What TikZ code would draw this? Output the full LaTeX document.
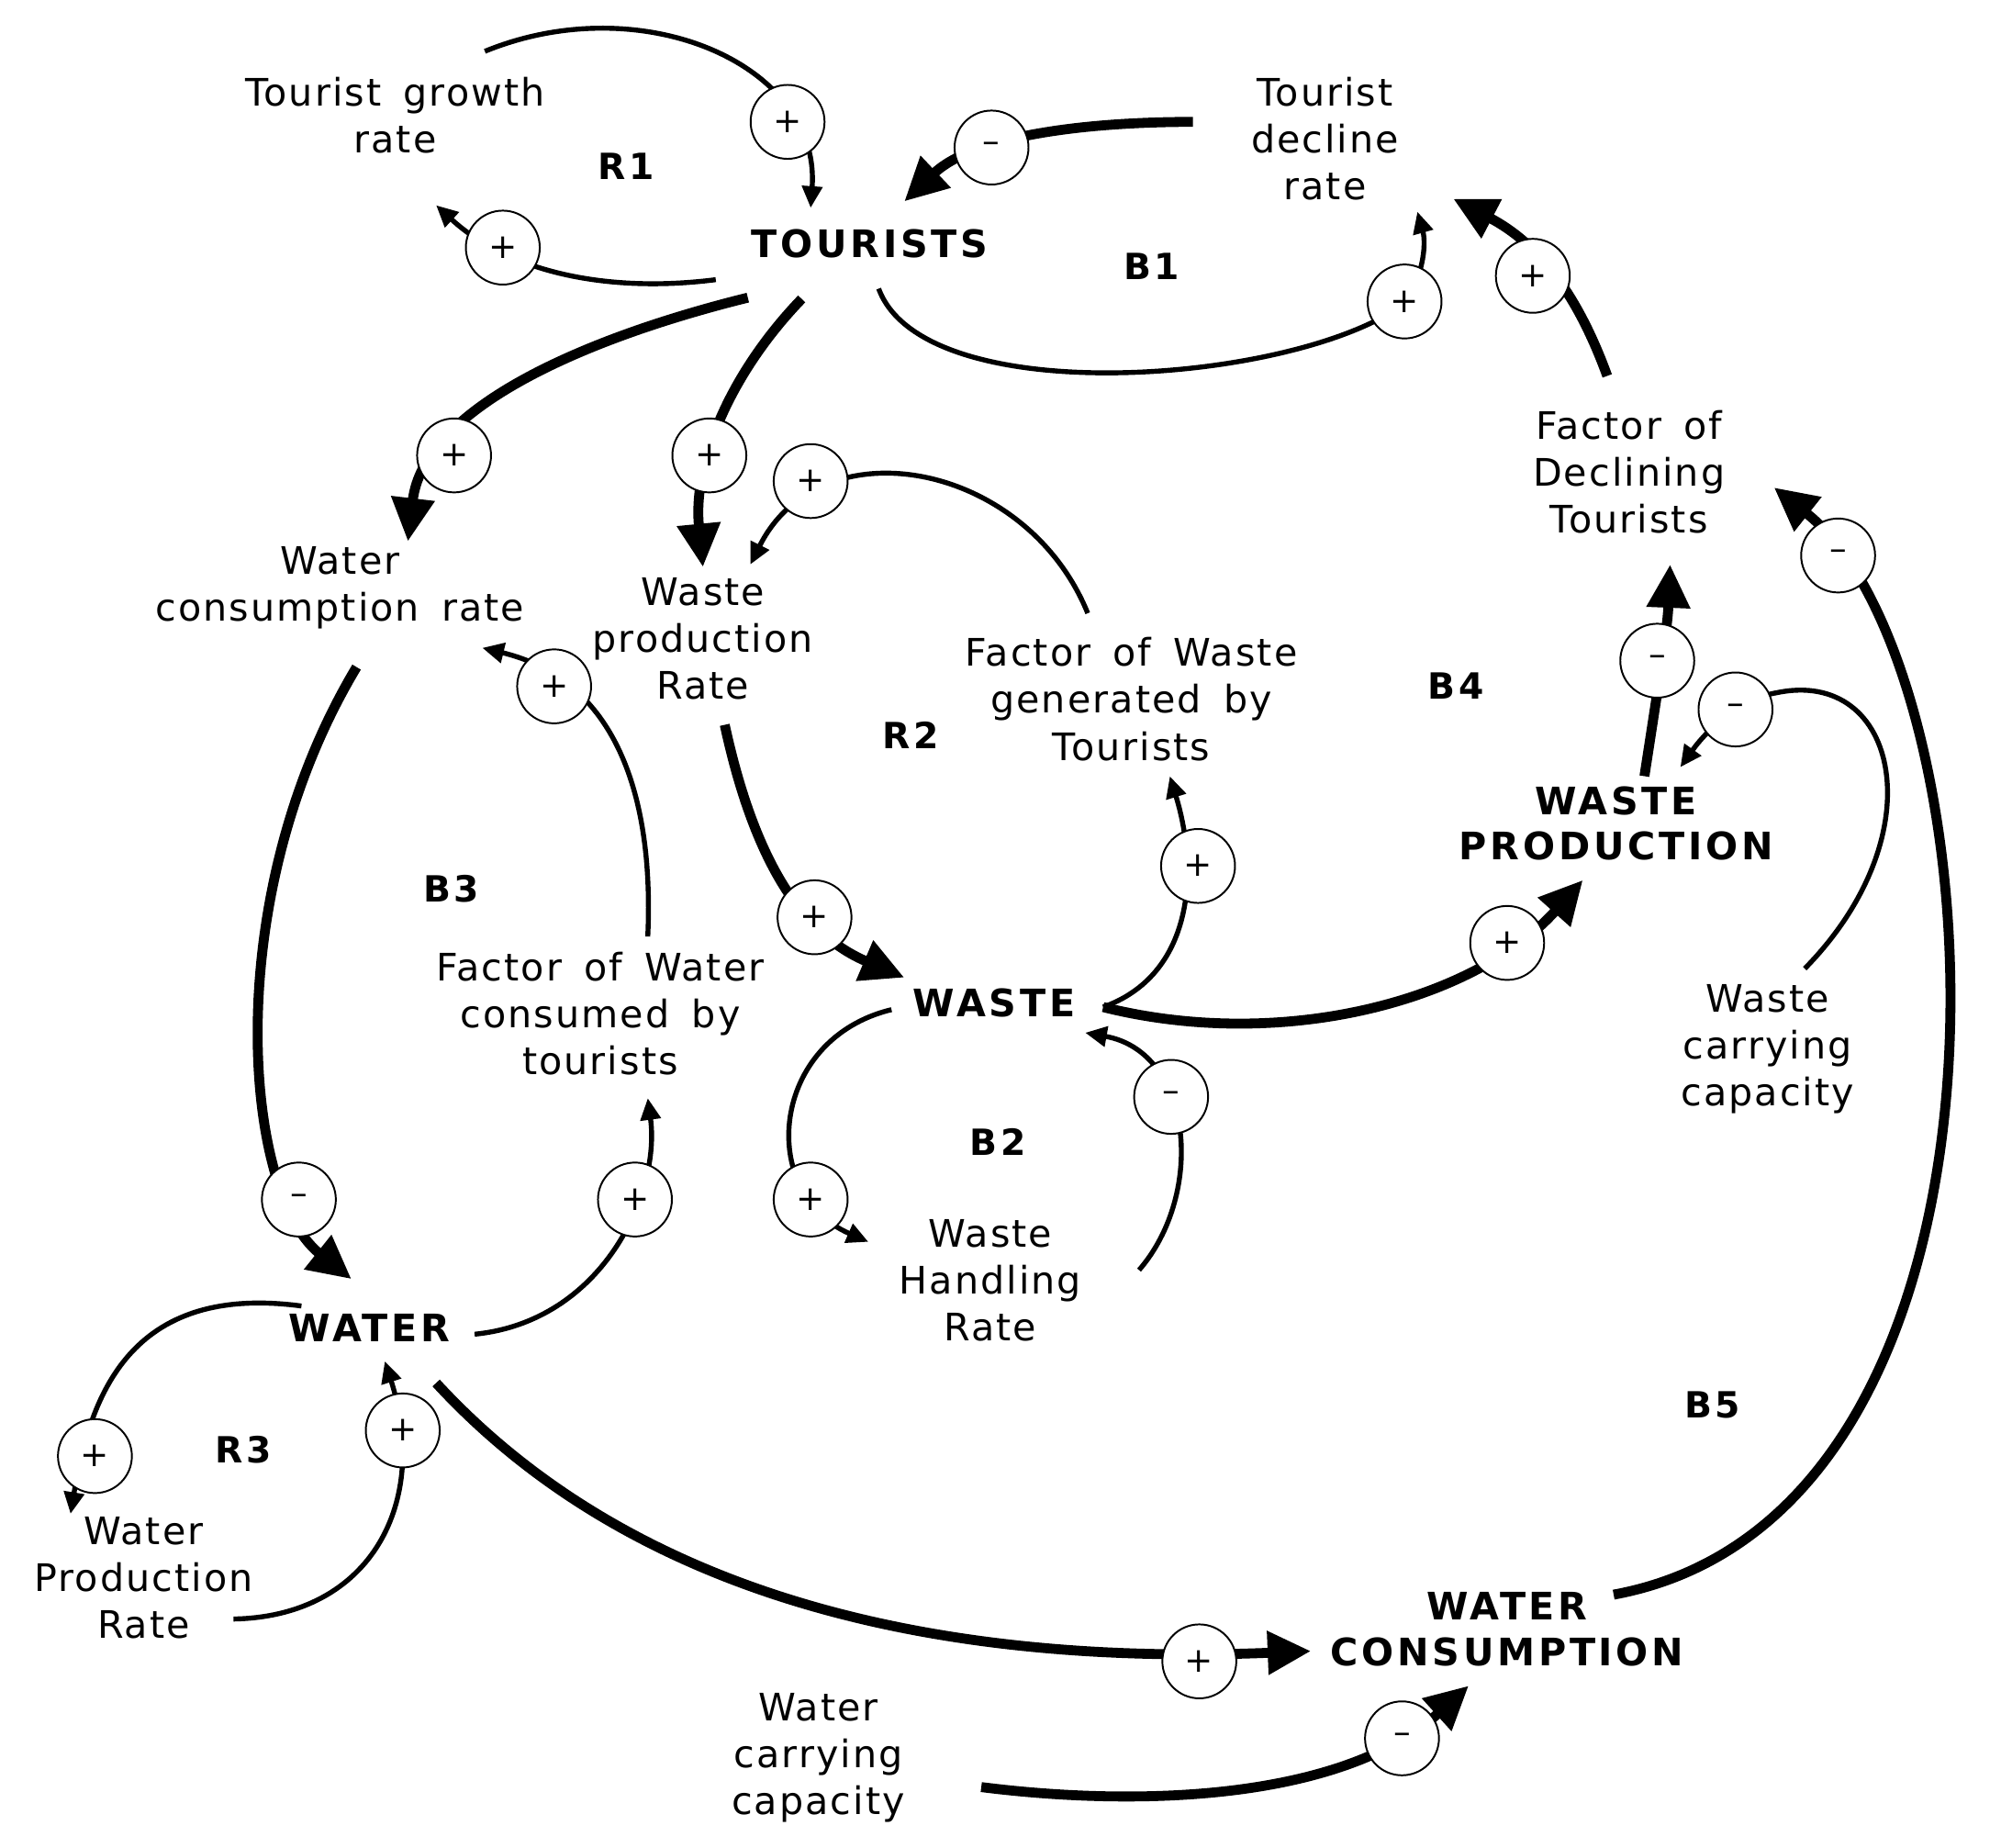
\documentclass[tikz,border=0pt]{standalone}
\usepackage{fontspec}
\setmainfont{DejaVu Sans}[LetterSpace=5,WordSpace=1.6]
\newfontfamily\boldfam{DejaVu Sans}[LetterSpace=9]
\usetikzlibrary{arrows.meta}
\begin{document}
\begin{tikzpicture}[x=0.05cm,y=-0.05cm,
 lbl/.style={align=center,font=\fontsize{42}{52}\selectfont},
 big/.style={align=center,font=\boldfam\fontsize{42}{50}\selectfont\bfseries},
 loop/.style={font=\boldfam\fontsize{40}{50}\selectfont\bfseries},
 thick link/.style={line width=11pt,-{Triangle[length=48pt,width=46pt]}},
 thin link/.style={line width=5.5pt,-{Triangle[length=24pt,width=22pt]}},
 sgn/.style={circle,draw,line width=2pt,fill=white,minimum size=82pt,inner sep=0pt,font=\fontsize{38}{38}\selectfont}]
\useasboundingbox (0,0) rectangle (1560,1440);
% nodes
\node[big] (T) at (678,190) {TOURISTS};
\node[lbl] (TG) at (308,90) {Tourist growth\\rate};
\node[lbl] (TD) at (1033,108) {Tourist\\decline\\rate};
\node[lbl] (WCR) at (265,458) {Water\\consumption rate};
\node[lbl] (WPR) at (548,498) {Waste\\production\\Rate};
\node[lbl] (FW) at (882,545) {Factor of Waste\\generated by\\Tourists};
\node[lbl] (FD) at (1270,368) {Factor of\\Declining\\Tourists};
\node[big] (WP) at (1260,642) {WASTE\\PRODUCTION};
\node[lbl] (WCC) at (1378,818) {Waste\\carrying\\capacity};
\node[big] (WA) at (775,782) {WASTE};
\node[lbl] (FWA) at (468,790) {Factor of Water\\consumed by\\tourists};
\node[lbl] (WHR) at (772,998) {Waste\\Handling\\Rate};
\node[big] (WT) at (288,1035) {WATER};
\node[lbl] (WPRR) at (112,1230) {Water\\Production\\Rate};
\node[big] (WC) at (1175,1270) {WATER\\CONSUMPTION};
\node[lbl] (WACC) at (638,1370) {Water\\carrying\\capacity};
% loop labels
\node[loop] (R1) at (488,130) {R1};
\node[loop] (B1) at (898,208) {B1};
\node[loop] (R2) at (710,573) {R2};
\node[loop] (B3) at (352,693) {B3};
\node[loop] (B2) at (778,890) {B2};
\node[loop] (B4) at (1135,535) {B4};
\node[loop] (R3) at (190,1130) {R3};
\node[loop] (B5) at (1335,1095) {B5};
% connectors
\draw[thin link] (558,218) .. controls (480,228) and (400,215) .. (340,160);
\draw[thin link] (378,40) .. controls (500,-10) and (640,50) .. (632,162);
\draw[thick link] (930,95) .. controls (850,95) and (760,105) .. (705,157);
\draw[thin link] (685,225) .. controls (720,320) and (1000,300) .. (1090,240) .. controls (1110,220) and (1112,190) .. (1105,165);
\draw[thick link] (583,232) .. controls (450,265) and (330,320) .. (318,422);
\draw[thick link] (625,233) .. controls (570,290) and (540,360) .. (548,442);
\draw[thin link] (848,478) .. controls (800,360) and (640,330) .. (585,440);
\draw[thick link] (565,565) .. controls (590,680) and (630,730) .. (705,762);
\draw[thin link] (860,785) .. controls (930,760) and (935,680) .. (912,605);
\draw[thick link] (860,785) .. controls (1000,820) and (1150,780) .. (1234,686);
\draw[thick link] (1282,605) .. controls (1292,540) and (1300,490) .. (1302,440);
\draw[thin link] (1407,755) .. controls (1510,650) and (1480,520) .. (1385,540) .. controls (1355,545) and (1330,570) .. (1310,598);
\draw[thick link] (1253,293) .. controls (1230,230) and (1200,190) .. (1133,155);
\draw[thick link] (1258,1243) .. controls (1600,1180) and (1560,520) .. (1383,380);
\draw[thick link] (278,520) .. controls (170,700) and (190,930) .. (274,997);
\draw[thin link] (370,1040) .. controls (470,1030) and (515,930) .. (505,856);
\draw[thin link] (505,730) .. controls (510,620) and (480,530) .. (376,505);
\draw[thin link] (695,787) .. controls (600,810) and (590,930) .. (677,968);
\draw[thin link] (888,990) .. controls (940,930) and (930,820) .. (846,805);
\draw[thin link] (235,1018) .. controls (100,1000) and (70,1090) .. (55,1180);
\draw[thin link] (182,1262) .. controls (290,1260) and (335,1170) .. (300,1061);
\draw[thick link] (340,1078) .. controls (480,1230) and (700,1300) .. (1022,1287);
\draw[thick link] (765,1393) .. controls (900,1410) and (1050,1400) .. (1145,1314);
% signs
\node[sgn] (s1) at (392,193) {+};
\node[sgn] (s2) at (614,95) {+};
\node[sgn] (s3) at (773,115) {–};
\node[sgn] (s4) at (1095,235) {+};
\node[sgn] (s5) at (354,355) {+};
\node[sgn] (s6) at (553,355) {+};
\node[sgn] (s7) at (632,375) {+};
\node[sgn] (s8) at (635,715) {+};
\node[sgn] (s9) at (934,675) {+};
\node[sgn] (s10) at (1175,735) {+};
\node[sgn] (s11) at (1292,515) {–};
\node[sgn] (s12) at (1353,553) {–};
\node[sgn] (s13) at (1195,215) {+};
\node[sgn] (s14) at (1433,433) {–};
\node[sgn] (s15) at (233,935) {–};
\node[sgn] (s16) at (495,935) {+};
\node[sgn] (s17) at (432,535) {+};
\node[sgn] (s18) at (632,935) {+};
\node[sgn] (s19) at (913,855) {–};
\node[sgn] (s20) at (74,1135) {+};
\node[sgn] (s21) at (314,1115) {+};
\node[sgn] (s22) at (935,1295) {+};
\node[sgn] (s23) at (1093,1355) {–};
\end{tikzpicture}
\end{document}
